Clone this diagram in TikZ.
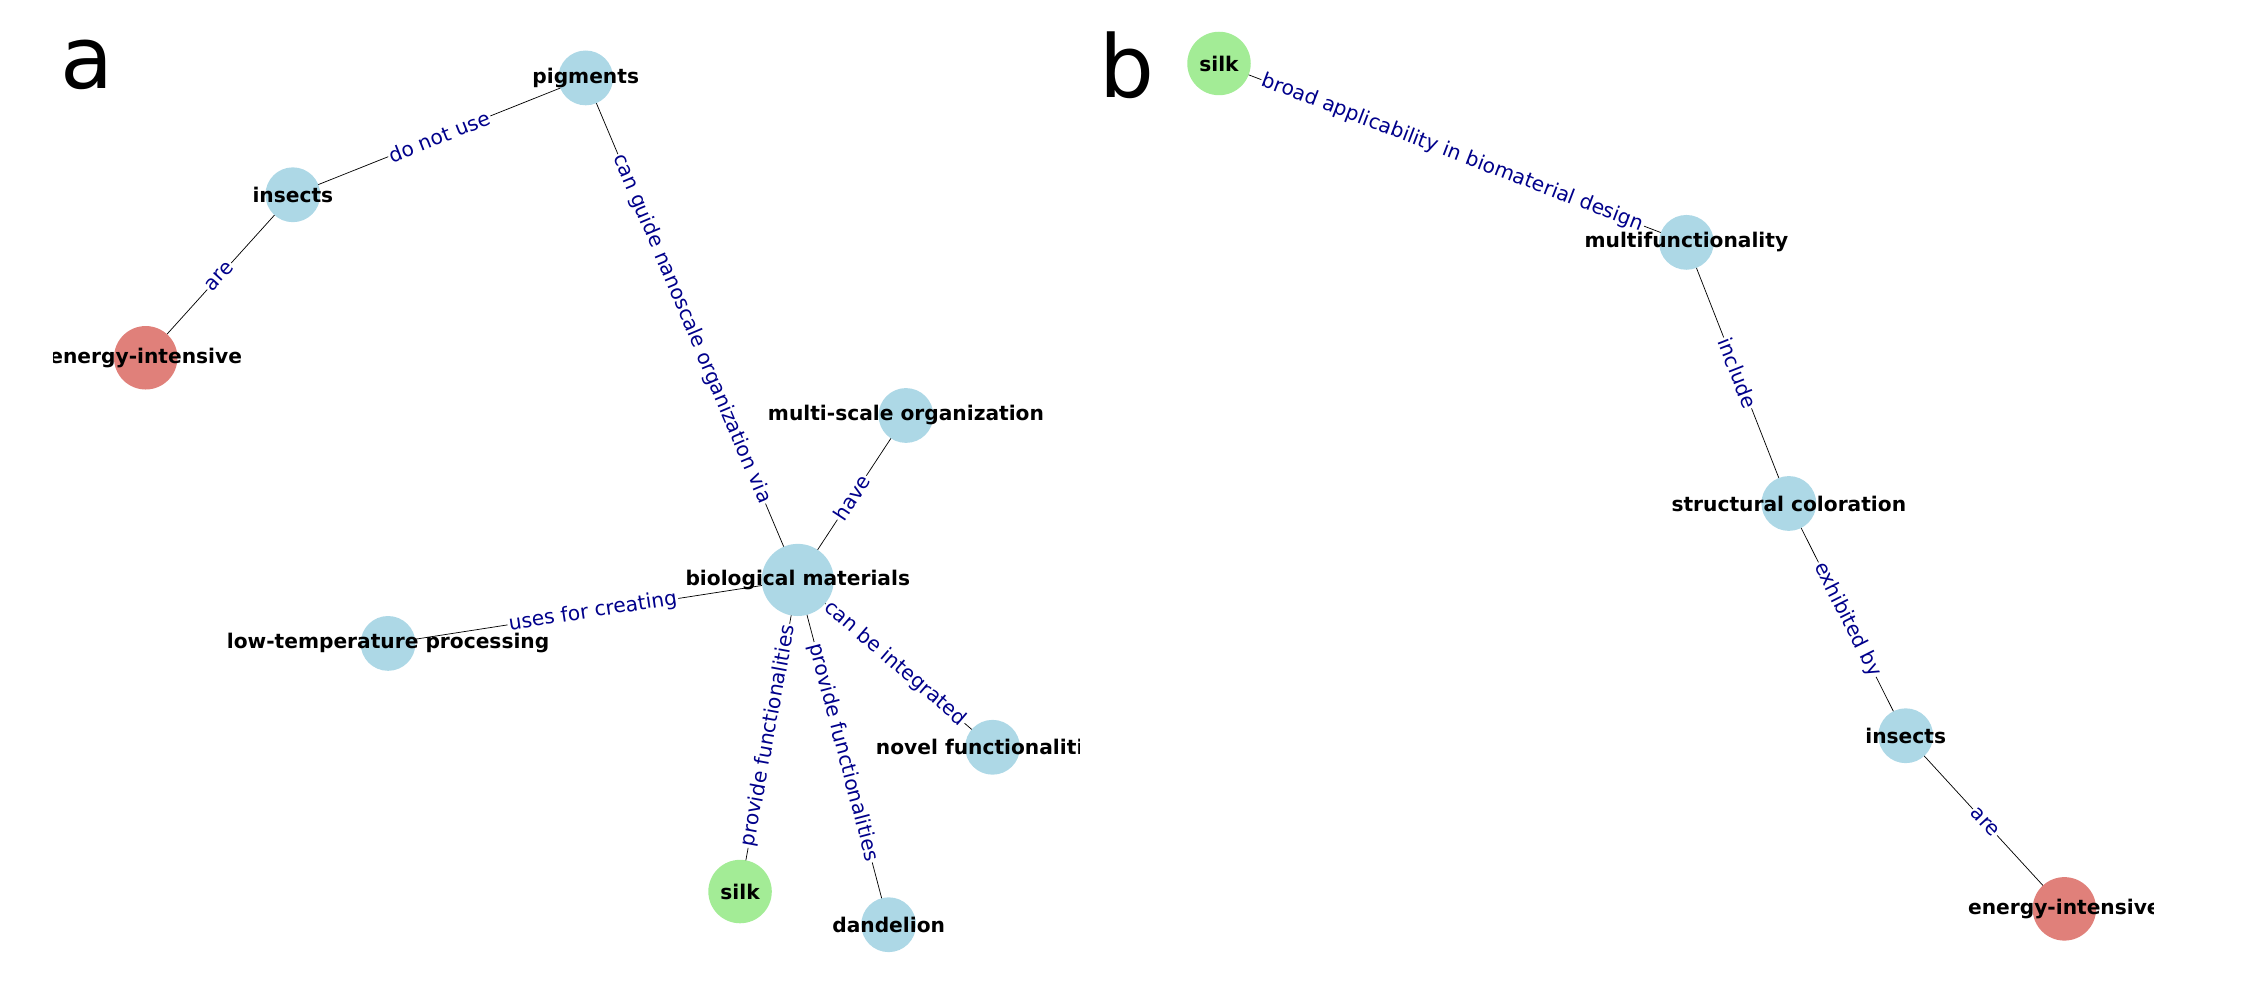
\documentclass[tikz,border=0pt]{standalone}
\usepackage{fontspec}
\setmainfont{DejaVu Sans}
\usetikzlibrary{backgrounds}
\definecolor{nblue}{HTML}{ADD8E6}
\definecolor{ngreen}{HTML}{A3EC96}
\definecolor{nred}{HTML}{E0807A}
\definecolor{elab}{HTML}{00008B}
\begin{document}
\begin{tikzpicture}[x=1pt,y=-1pt,
  dot/.style={circle,fill=nblue,inner sep=0pt,minimum size=38},
  big/.style={dot,minimum size=50},
  grn/.style={dot,fill=ngreen,minimum size=44},
  rd/.style={dot,fill=nred,minimum size=44},
  nl/.style={label={[font=\fontsize{14}{16}\selectfont\bfseries]center:#1}},
  edge/.style={draw=black,line width=0.5pt},
  el/.style={sloped,fill=white,inner sep=1pt,text=elab,font=\fontsize{14}{16}\selectfont}]
\useasboundingbox (0,0) rectangle (1568,689);
\node[font=\fontsize{60}{62}\selectfont] (pa) at (60,45) {a};
\node[font=\fontsize{60}{62}\selectfont] (pb) at (781,45) {b};
\begin{scope}
\clip (37,0) rectangle (748,689);
\node[dot,nl=pigments] (pig) at (406,54) {};
\node[dot,nl=insects] (ins) at (203,135) {};
\node[rd,nl=energy-intensive] (en) at (101,248) {};
\node[dot,nl=multi-scale organization] (ms) at (628,288) {};
\node[big,nl=biological materials] (bm) at (553,402) {};
\node[dot,nl=low-temperature processing] (lt) at (269,446) {};
\node[dot,nl=novel functionalities] (nf) at (688,518) {};
\node[grn,nl=silk] (sk) at (513,618) {};
\node[dot,nl=dandelion] (dd) at (616,641) {};
\begin{scope}[on background layer]
\draw[edge] (ins.center) -- node[el]{do not use} (pig.center);
\draw[edge] (ins.center) -- node[el]{are} (en.center);
\draw[edge] (pig.center) -- node[el]{can guide nanoscale organization via} (bm.center);
\draw[edge] (bm.center) -- node[el]{have} (ms.center);
\draw[edge] (lt.center) -- node[el]{uses for creating} (bm.center);
\draw[edge] (bm.center) -- node[el]{can be integrated} (nf.center);
\draw[edge] (sk.center) -- node[el]{provide functionalities} (bm.center);
\draw[edge] (bm.center) -- node[el]{provide functionalities} (dd.center);
\end{scope}
\end{scope}
\begin{scope}
\clip (760,0) rectangle (1493,689);
\node[grn,nl=silk] (sk2) at (845,44) {};
\node[dot,nl=multifunctionality] (mf) at (1169,168) {};
\node[dot,nl=structural coloration] (sc) at (1240,349) {};
\node[dot,nl=insects] (ins2) at (1321,510) {};
\node[rd,nl=energy-intensive] (en2) at (1431,630) {};
\begin{scope}[on background layer]
\draw[edge] (sk2.center) -- node[el]{broad applicability in biomaterial design} (mf.center);
\draw[edge] (mf.center) -- node[el]{include} (sc.center);
\draw[edge] (sc.center) -- node[el]{exhibited by} (ins2.center);
\draw[edge] (ins2.center) -- node[el]{are} (en2.center);
\end{scope}
\end{scope}
\end{tikzpicture}
\end{document}
